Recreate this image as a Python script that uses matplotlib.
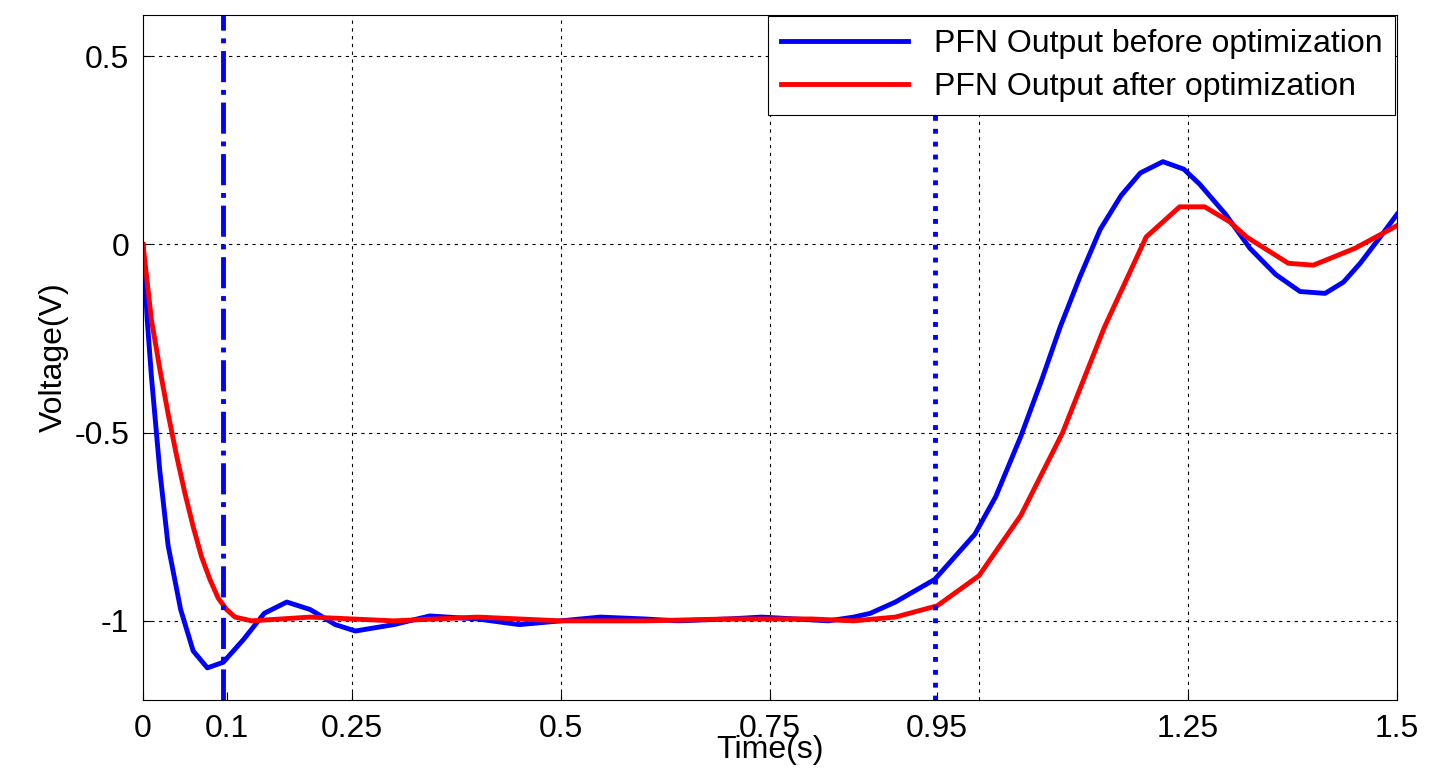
import matplotlib
matplotlib.use("Agg")
import matplotlib.pyplot as plt

t_before = [0, 0.005, 0.01, 0.02, 0.03, 0.045, 0.06, 0.077, 0.096, 0.12, 0.145, 0.172, 0.2, 0.23, 0.254, 0.3, 0.343, 0.4, 0.45, 0.5, 0.547, 0.6, 0.64, 0.7, 0.74, 0.78, 0.82, 0.85, 0.87, 0.9, 0.947, 0.995, 1.02, 1.05, 1.075, 1.097, 1.12, 1.145, 1.17, 1.193, 1.22, 1.245, 1.264, 1.295, 1.324, 1.355, 1.384, 1.414, 1.436, 1.456, 1.48, 1.5]
v_before = [0, -0.2, -0.35, -0.6, -0.8, -0.97, -1.08, -1.125, -1.11, -1.05, -0.98, -0.95, -0.97, -1.01, -1.027, -1.01, -0.987, -0.995, -1.01, -1.0, -0.99, -0.995, -1.0, -0.995, -0.99, -0.995, -1.0, -0.99, -0.98, -0.95, -0.89, -0.77, -0.67, -0.51, -0.36, -0.22, -0.09, 0.04, 0.13, 0.19, 0.22, 0.2, 0.16, 0.08, -0.01, -0.08, -0.125, -0.13, -0.1, -0.05, 0.02, 0.08]

t_after = [0, 0.005, 0.01, 0.02, 0.03, 0.04, 0.05, 0.06, 0.07, 0.08, 0.09, 0.1, 0.11, 0.13, 0.2, 0.3, 0.4, 0.5, 0.6, 0.7, 0.8, 0.85, 0.9, 0.95, 1.0, 1.05, 1.1, 1.15, 1.2, 1.24, 1.27, 1.3, 1.32, 1.37, 1.4, 1.45, 1.5]
v_after = [0, -0.1, -0.2, -0.33, -0.45, -0.56, -0.66, -0.75, -0.83, -0.89, -0.94, -0.97, -0.99, -1.0, -0.99, -1.0, -0.99, -1.0, -1.0, -0.995, -0.995, -1.0, -0.99, -0.96, -0.88, -0.72, -0.5, -0.22, 0.02, 0.1, 0.1, 0.06, 0.02, -0.05, -0.055, -0.01, 0.05]

xticks = [0, 0.1, 0.25, 0.5, 0.75, 0.95, 1.25, 1.5]
xtick_labels = ["0", "0.1", "0.25", "0.5", "0.75", "0.95", "1.25", "1.5"]
yticks = [-1, -0.5, 0, 0.5]
ytick_labels = ["-1", "-0.5", "0", "0.5"]

plt.rcParams['font.family'] = ['Liberation Sans', 'DejaVu Sans']
fig = plt.figure(figsize=(14.39, 7.82), dpi=100)
ax = fig.add_axes([0.0994, 0.105, 0.8714, 0.876])
ax.plot(t_before, v_before, color='#0000ff', lw=3.5, label='PFN Output before optimization')
ax.plot(t_after, v_after, color='#ff0000', lw=3.5, label='PFN Output after optimization')
ax.axvline(0.096, color='#0000ff', lw=3.5, ls='-.')
ax.axvline(0.947, color='#0000ff', lw=3.5, ls=':')
ax.set_xlim(0, 1.5)
ax.set_ylim(-1.21, 0.61)
ax.set_xticks(xticks)
ax.set_xticklabels(xtick_labels)
ax.set_yticks(yticks)
ax.set_yticklabels(ytick_labels)
for g in [0.25, 0.5, 0.75, 1.0, 1.25]:
    ax.axvline(g, color='black', lw=0.8, ls=(0, (3, 4)), zorder=0)
for g in yticks:
    ax.axhline(g, color='black', lw=0.8, ls=(0, (3, 4)), zorder=0)
ax.tick_params(labelsize=23, direction='in', length=6, pad=10)
ax.set_xlabel('Time(s)', fontsize=23, labelpad=-6)
ax.set_ylabel('Voltage(V)', fontsize=23)
leg = ax.legend(loc='upper right', fontsize=23, fancybox=False, framealpha=1, edgecolor='black', handlelength=4, borderaxespad=0.05, labelspacing=0.4)
leg.get_frame().set_linewidth(0.8)
fig.savefig('out.png', dpi=100)
